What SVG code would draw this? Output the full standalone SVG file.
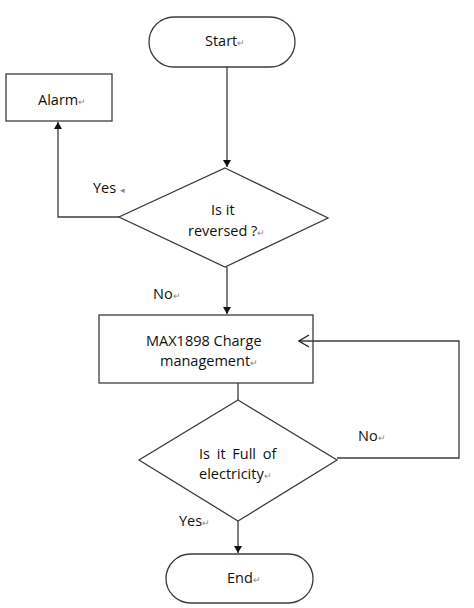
<svg xmlns="http://www.w3.org/2000/svg" width="474" height="608" viewBox="0 0 474 608">
<defs>
<marker id="tri" markerWidth="8" markerHeight="8" refX="7" refY="4" orient="auto" markerUnits="userSpaceOnUse">
<path d="M0,0 L7,4 L0,8 Z" fill="#111"/>
</marker>
<marker id="open" markerWidth="12" markerHeight="14" refX="11" refY="7" orient="auto" markerUnits="userSpaceOnUse">
<path d="M1,1 L11,7 L1,13" fill="none" stroke="#222" stroke-width="1.3"/>
</marker>
</defs>
<style>
.shape{fill:#fff;stroke:#3c3c3c;stroke-width:1.3}
.line{fill:none;stroke:#3c3c3c;stroke-width:1.3}
text{font-family:"Open Sans","Liberation Sans",sans-serif;font-size:14.5px;fill:#111}
.mk{font-size:9px;fill:#888}
</style>
<rect width="474" height="608" fill="#fff"/>
<g id="start">
<rect class="shape" x="149" y="17" width="146" height="50" rx="25"/>
<text x="205" y="46">Start<tspan class="mk">↵</tspan></text>
</g>
<g id="alarm">
<rect class="shape" x="6" y="74" width="106" height="47"/>
<text x="38" y="105">Alarm<tspan class="mk">↵</tspan></text>
</g>
<g id="reversed">
<path class="shape" d="M225,168 L328,218 L225,267 L119,217 Z"/>
<text x="211" y="215">Is it</text>
<text x="188" y="236">reversed ?<tspan class="mk">↵</tspan></text>
</g>
<g id="charge">
<rect class="shape" x="99" y="315" width="214" height="68"/>
<text x="146" y="346">MAX1898 Charge</text>
<text x="160" y="366">management<tspan class="mk">↵</tspan></text>
</g>
<g id="full">
<path class="shape" d="M238,400 L337,460 L238,521 L139,460 Z"/>
<text x="199" y="459" word-spacing="3">Is it Full of</text>
<text x="199" y="479">electricity<tspan class="mk">↵</tspan></text>
</g>
<g id="end">
<rect class="shape" x="166" y="554" width="147" height="49" rx="24.5"/>
<text x="227" y="583">End<tspan class="mk">↵</tspan></text>
</g>
<g id="connectors">
<path class="line" d="M227,67 V167" marker-end="url(#tri)"/>
<path class="line" d="M119,217 H58 V122" marker-end="url(#tri)"/>
<path class="line" d="M227,267 V314" marker-end="url(#tri)"/>
<path class="line" d="M238,383 V400"/>
<path class="line" d="M337,458 H459 V341 H299" marker-end="url(#open)"/>
<path class="line" d="M238,521 V553" marker-end="url(#tri)"/>
</g>
<g id="labels">
<text x="93" y="193">Yes <tspan class="mk">◂</tspan></text>
<text x="153" y="299">No<tspan class="mk">↵</tspan></text>
<text x="358" y="441">No<tspan class="mk">↵</tspan></text>
<text x="179" y="526">Yes<tspan class="mk">↵</tspan></text>
</g>
</svg>
